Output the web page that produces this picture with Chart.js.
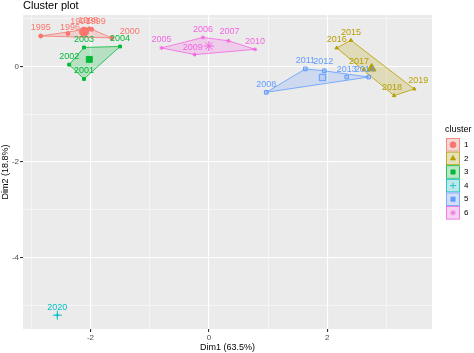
<!DOCTYPE html>
<html>
<head>
<meta charset="utf-8">
<script src="https://cdn.jsdelivr.net/npm/chart.js@4/dist/chart.umd.min.js"></script>
<style>
  html, body { margin: 0; padding: 0; background: #fff; }
  #wrap { width: 474px; height: 353px; }
</style>
</head>
<body>
<div id="wrap"><canvas id="chart"></canvas></div>
<script>
// values (Dim1 / Dim2 per year, grouped by cluster)
const clusterIds = ['1', '2', '3', '4', '5', '6'];

const years1 = ['1995', '1996', '1997', '1998', '1999', '2000'];
const dim1_1 = [-2.84, -2.38, -2.07, -2.02, -1.98, -1.64];
const dim2_1 = [0.64, 0.69, 0.76, 0.79, 0.78, 0.60];

const years2 = ['2015', '2016', '2017', '2018', '2019'];
const dim1_2 = [2.40, 2.16, 2.62, 3.13, 3.47];
const dim2_2 = [0.55, 0.39, -0.06, -0.61, -0.47];

const years3 = ['2001', '2002', '2003', '2004'];
const dim1_3 = [-2.11, -2.36, -2.11, -1.50];
const dim2_3 = [-0.26, 0.04, 0.40, 0.42];

const years4 = ['2020'];
const dim1_4 = [-2.56];
const dim2_4 = [-5.21];

const years5 = ['2008', '2011', '2012', '2013', '2014'];
const dim1_5 = [0.97, 1.63, 1.95, 2.33, 2.70];
const dim2_5 = [-0.54, -0.05, -0.09, -0.22, -0.22];

const years6 = ['2005', '2006', '2007', '2009', '2010'];
const dim1_6 = [-0.80, -0.10, 0.33, -0.24, 0.78];
const dim2_6 = [0.39, 0.61, 0.54, 0.25, 0.36];

const centerDim1 = [-2.11, 2.75, -2.02, -2.56, 1.92, 0.00];
const centerDim2 = [0.73, -0.04, 0.15, -5.21, -0.23, 0.43];

const xTicks = [-3, -2, -1, 0, 1, 2, 3];
const yTicks = [-5, -4, -3, -2, -1, 0, 1];

// styles
const clusterColors = ['#F8766D', '#B79F00', '#00BA38', '#00BFC4', '#619CFF', '#F564E3'];
const pointStyles = ['circle', 'triangle', 'rect', 'cross', 'rect', 'star'];
const centerRadius = [4.5, 5, 4.2, 4.5, 4.5, 5];
const labelOffsets = {
  '1997': [-6, -9], '1998': [-1, -8], '1999': [4, -8], '2000': [18, -6],
  '1996': [2, -6], '2007': [1, -9], '2012': [-1, -9], '2014': [-4, -8],
  '2017': [-5, -8], '2019': [4, -8], '2018': [-2, -8], '2009': [-2, -7]
};
const FONT = '"Liberation Sans", Arial, sans-serif';

const clusters = [
  {years: years1, dim1: dim1_1, dim2: dim2_1},
  {years: years2, dim1: dim1_2, dim2: dim2_2},
  {years: years3, dim1: dim1_3, dim2: dim2_3},
  {years: years4, dim1: dim1_4, dim2: dim2_4},
  {years: years5, dim1: dim1_5, dim2: dim2_5},
  {years: years6, dim1: dim1_6, dim2: dim2_6}
];

function alpha(hex, a) {
  const n = parseInt(hex.slice(1), 16);
  return `rgba(${n >> 16},${(n >> 8) & 255},${n & 255},${a})`;
}

// convex hull (monotone chain)
function hull(pts) {
  const p = pts.slice().sort((a, b) => a.x - b.x || a.y - b.y);
  const cross = (o, a, b) => (a.x - o.x) * (b.y - o.y) - (a.y - o.y) * (b.x - o.x);
  const lower = [], upper = [];
  p.forEach(q => { while (lower.length >= 2 && cross(lower[lower.length - 2], lower[lower.length - 1], q) <= 0) lower.pop(); lower.push(q); });
  for (let i = p.length - 1; i >= 0; i--) {
    const q = p[i];
    while (upper.length >= 2 && cross(upper[upper.length - 2], upper[upper.length - 1], q) <= 0) upper.pop();
    upper.push(q);
  }
  const h = lower.slice(0, -1).concat(upper.slice(0, -1));
  h.push(h[0]);
  return h;
}

const datasets = [];
clusters.forEach((c, i) => {
  const pts = c.years.map((yr, j) => ({x: c.dim1[j], y: c.dim2[j]}));
  if (pts.length > 2) {
    datasets.push({
      type: 'line',
      data: hull(pts),
      fill: 'shape',
      backgroundColor: alpha(clusterColors[i], 0.22),
      borderColor: clusterColors[i],
      borderWidth: 0.8,
      pointRadius: 0,
      tension: 0,
      order: 3
    });
  }
  datasets.push({
    data: pts,
    pointStyle: pointStyles[i],
    pointRadius: i === 4 ? 2.6 : 2,
    pointBackgroundColor: i === 4 ? alpha(clusterColors[i], 0.3) : clusterColors[i],
    pointBorderColor: clusterColors[i],
    pointBorderWidth: 1,
    order: 2
  });
  datasets.push({
    data: [{x: centerDim1[i], y: centerDim2[i]}],
    pointStyle: pointStyles[i],
    pointRadius: centerRadius[i],
    pointBackgroundColor: i === 4 ? alpha(clusterColors[i], 0.15) : clusterColors[i],
    pointBorderColor: clusterColors[i],
    pointBorderWidth: 1,
    order: 1
  });
});

const panelBg = {
  id: 'panelBg',
  beforeDraw(chart) {
    const {ctx, chartArea: a} = chart;
    ctx.save();
    ctx.fillStyle = '#EBEBEB';
    ctx.fillRect(a.left, a.top, a.right - a.left, a.bottom - a.top);
    ctx.restore();
  }
};

const yearLabels = {
  id: 'yearLabels',
  afterDatasetsDraw(chart) {
    const {ctx, scales: {x, y}} = chart;
    ctx.save();
    ctx.font = '9px ' + FONT;
    ctx.textAlign = 'center';
    ctx.textBaseline = 'middle';
    clusters.forEach((c, i) => {
      ctx.fillStyle = clusterColors[i];
      c.years.forEach((yr, j) => {
        const off = labelOffsets[yr] || [0, -8];
        ctx.fillText(yr, x.getPixelForValue(c.dim1[j]) + off[0], y.getPixelForValue(c.dim2[j]) + off[1]);
      });
    });
    ctx.restore();
  }
};

const titleAndLegend = {
  id: 'titleAndLegend',
  afterDraw(chart) {
    const ctx = chart.ctx;
    ctx.save();
    ctx.fillStyle = '#000';
    ctx.font = '11px ' + FONT;
    ctx.textAlign = 'left';
    ctx.textBaseline = 'middle';
    ctx.fillText('Cluster plot', 23, 6);

    ctx.font = '9px ' + FONT;
    ctx.fillText('cluster', 445, 130);
    const keyH = 13.6;
    clusterIds.forEach((id, i) => {
      const top = 138 + i * keyH;
      ctx.fillStyle = '#F2F2F2';
      ctx.fillRect(446, top, 14, keyH);
      ctx.fillStyle = alpha(clusterColors[i], 0.22);
      ctx.strokeStyle = clusterColors[i];
      ctx.lineWidth = 0.8;
      ctx.fillRect(446.5, top + 0.5, 13, keyH - 1);
      ctx.strokeRect(446.5, top + 0.5, 13, keyH - 1);
      ctx.fillStyle = clusterColors[i];
      Chart.helpers.drawPoint(ctx, {pointStyle: pointStyles[i], radius: 3, rotation: 0, borderWidth: 1}, 453, top + keyH / 2);
      ctx.fillStyle = '#000';
      ctx.font = '8px ' + FONT;
      ctx.fillText(id, 464, top + keyH / 2);
    });
    ctx.restore();
  }
};

const isMajor = v => v % 2 === 0;

new Chart(document.getElementById('chart'), {
  type: 'scatter',
  data: {datasets: datasets},
  options: {
    responsive: true,
    maintainAspectRatio: false,
    animation: false,
    layout: {padding: {top: 15, right: 42, left: 0, bottom: 0}},
    plugins: {legend: {display: false}, tooltip: {enabled: false}},
    scales: {
      x: {
        type: 'linear',
        min: -3.14,
        max: 3.77,
        afterBuildTicks: s => { s.ticks = xTicks.map(v => ({value: v})); },
        afterFit: s => { s.height = 24; },
        border: {display: false},
        grid: {
          color: '#FFFFFF',
          lineWidth: c => (c.tick && isMajor(c.tick.value)) ? 1.1 : 0.5,
          tickLength: 3,
          tickColor: c => (c.tick && isMajor(c.tick.value)) ? '#333333' : 'rgba(0,0,0,0)'
        },
        ticks: {
          callback: v => isMajor(v) ? String(v) : '',
          color: '#4D4D4D',
          font: {size: 8, family: FONT},
          padding: 1,
          maxRotation: 0,
          autoSkip: false
        },
        title: {display: true, text: 'Dim1 (63.5%)', color: '#000', font: {size: 9, family: FONT}, padding: 0}
      },
      y: {
        type: 'linear',
        min: -5.5,
        max: 1.08,
        afterBuildTicks: s => { s.ticks = yTicks.map(v => ({value: v})); },
        afterFit: s => { s.width = 23; },
        border: {display: false},
        grid: {
          color: '#FFFFFF',
          lineWidth: c => (c.tick && isMajor(c.tick.value)) ? 1.1 : 0.5,
          tickLength: 3,
          tickColor: c => (c.tick && isMajor(c.tick.value)) ? '#333333' : 'rgba(0,0,0,0)'
        },
        ticks: {
          callback: v => isMajor(v) ? String(v) : '',
          color: '#4D4D4D',
          font: {size: 8, family: FONT},
          padding: 1,
          autoSkip: false
        },
        title: {display: true, text: 'Dim2 (18.8%)', color: '#000', font: {size: 9, family: FONT}, padding: 0}
      }
    }
  },
  plugins: [panelBg, yearLabels, titleAndLegend]
});
</script>
</body>
</html>
